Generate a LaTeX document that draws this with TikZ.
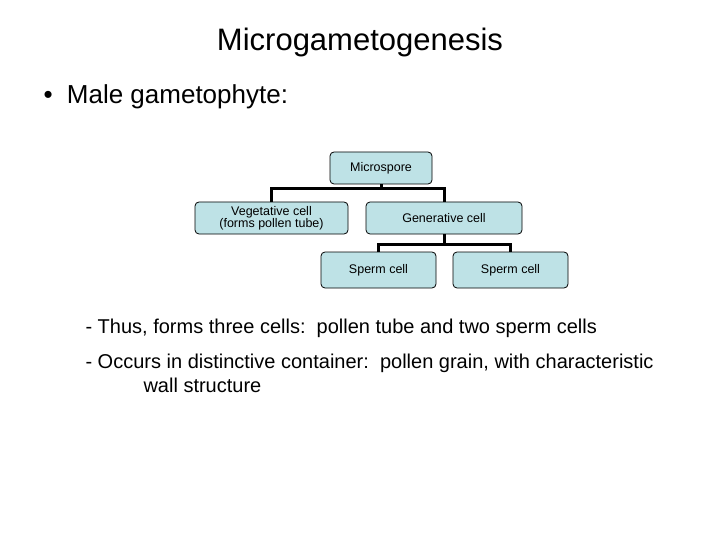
\documentclass[tikz,border=0pt]{standalone}
\usepackage{fontspec}
\setmainfont{Liberation Sans}
\definecolor{boxfill}{RGB}{190,226,230}
\begin{document}
\begin{tikzpicture}[x=1pt,y=-1pt,
  cellbox/.style={draw=black,fill=boxfill,rounded corners=4pt,line width=0.8pt,align=center,font=\fontsize{12.5}{12}\selectfont,inner sep=1pt},
  tree/.style={line width=3pt}]
\useasboundingbox (0,0) rectangle (720,540);
\node[font=\fontsize{31}{36}\selectfont] at (360,42) {Microgametogenesis};
\node[anchor=west,font=\fontsize{26}{30}\selectfont] at (40,97) {•\hspace{0.55em}Male gametophyte:};
\node[cellbox,minimum width=102pt,minimum height=32pt] (m) at (381,168) {Microspore};
\node[cellbox,minimum width=153pt,minimum height=32pt] (v) at (271.5,218) {Vegetative cell\\(forms pollen tube)};
\node[cellbox,minimum width=156pt,minimum height=32pt] (g) at (444,218) {Generative cell};
\node[cellbox,minimum width=115pt,minimum height=36pt] (s1) at (378.5,270) {Sperm cell};
\node[cellbox,minimum width=115pt,minimum height=36pt] (s2) at (510.5,270) {Sperm cell};
\coordinate (j1) at (381,189);
\coordinate (j2) at (444,244);
\draw[tree] (m.south) -- (j1);
\draw[tree] (v.north) |- (j1) -| (g.north);
\draw[tree] (g.south) -- (j2);
\draw[tree] (s1.north) |- (j2) -| (s2.north);
\node[anchor=west,font=\fontsize{20}{24}\selectfont] at (82,328) {- Thus, forms three cells:\ \ pollen tube and two sperm cells};
\node[anchor=west,align=left,font=\fontsize{20}{24}\selectfont] at (82,373) {- Occurs in distinctive container:\ \ pollen grain, with characteristic\\\hspace{2.9em}wall structure};
\end{tikzpicture}
\end{document}
